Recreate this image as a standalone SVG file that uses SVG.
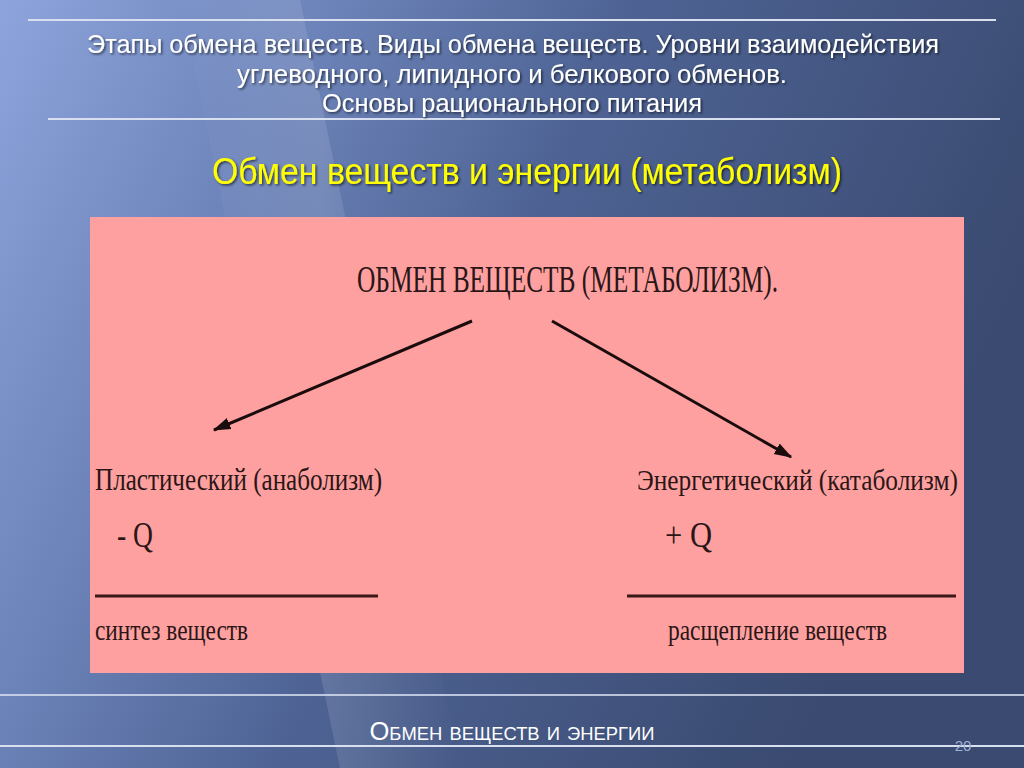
<svg xmlns="http://www.w3.org/2000/svg" width="1024" height="768" viewBox="0 0 1024 768">
<defs>
<linearGradient id="bg" x1="0" y1="0" x2="1" y2="0.35">
<stop offset="0" stop-color="#8da4dc"/>
<stop offset="0.3" stop-color="#6b82b8"/>
<stop offset="0.55" stop-color="#4e6394"/>
<stop offset="1" stop-color="#3a4a70"/>
</linearGradient>
<linearGradient id="streak" x1="0" y1="0" x2="1" y2="0">
<stop offset="0" stop-color="#ffffff" stop-opacity="0"/>
<stop offset="0.5" stop-color="#ffffff" stop-opacity="0.12"/>
<stop offset="1" stop-color="#ffffff" stop-opacity="0"/>
</linearGradient>
<marker id="ah" viewBox="0 0 12 10" refX="11" refY="5" markerWidth="6" markerHeight="5" orient="auto" markerUnits="strokeWidth">
<path d="M0,1 L12,5 L0,9 Z" fill="#1a0c0c"/>
</marker>
<filter id="sh" x="-5%" y="-20%" width="110%" height="140%">
<feDropShadow dx="1.5" dy="1.5" stdDeviation="0.8" flood-color="#000" flood-opacity="0.6"/>
</filter>
</defs>
<style>
.hdr{font-family:"Liberation Sans","DejaVu Sans",sans-serif;font-size:25px;fill:#ffffff;text-anchor:middle}
.ttl{font-family:"Liberation Sans","DejaVu Sans",sans-serif;font-size:37px;fill:#ffff00;text-anchor:middle}
.dg{font-family:"Liberation Serif","DejaVu Serif",serif;fill:#2a1616}
.rule{stroke:#d8e0f0;stroke-width:2}
.conn{stroke:#1a0c0c;stroke-width:3;fill:none}
.bar{stroke:#3a1818;stroke-width:3}
</style>
<rect x="0" y="0" width="1024" height="768" fill="url(#bg)"/>
<polygon points="180,0 300,0 460,768 340,768" fill="url(#streak)"/>
<line class="rule" x1="28" y1="20" x2="996" y2="20"/>
<line class="rule" x1="48" y1="119" x2="1000" y2="119"/>
<g id="header" filter="url(#sh)">
<text class="hdr" x="513" y="53" textLength="852" lengthAdjust="spacingAndGlyphs">Этапы обмена веществ. Виды обмена веществ. Уровни взаимодействия</text>
<text class="hdr" x="512" y="83" textLength="550" lengthAdjust="spacingAndGlyphs">углеводного, липидного и белкового обменов.</text>
<text class="hdr" x="512" y="112" textLength="380" lengthAdjust="spacingAndGlyphs">Основы рационального питания</text>
</g>
<g id="title" filter="url(#sh)">
<text class="ttl" x="527" y="184" textLength="630" lengthAdjust="spacingAndGlyphs">Обмен веществ и энергии (метаболизм)</text>
</g>
<rect x="90" y="217" width="874" height="456" fill="#ffa0a0"/>
<g id="root">
<text class="dg" x="357" y="292" font-size="38" textLength="421" lengthAdjust="spacingAndGlyphs">ОБМЕН ВЕЩЕСТВ (МЕТАБОЛИЗМ).</text>
</g>
<g id="connectors">
<line class="conn" x1="472" y1="321" x2="214" y2="430" marker-end="url(#ah)"/>
<line class="conn" x1="552" y1="321" x2="791" y2="457" marker-end="url(#ah)"/>
</g>
<g id="anabolism">
<text class="dg" x="95" y="490" font-size="32" textLength="287" lengthAdjust="spacingAndGlyphs">Пластический (анаболизм)</text>
<text class="dg" x="117" y="547" font-size="36" textLength="36" lengthAdjust="spacingAndGlyphs">- Q</text>
<line class="bar" x1="95" y1="596" x2="378" y2="596"/>
<text class="dg" x="95" y="640" font-size="30" textLength="153" lengthAdjust="spacingAndGlyphs">синтез веществ</text>
</g>
<g id="catabolism">
<text class="dg" x="637" y="490" font-size="30" textLength="321" lengthAdjust="spacingAndGlyphs">Энергетический (катаболизм)</text>
<text class="dg" x="665" y="547" font-size="36" textLength="47" lengthAdjust="spacingAndGlyphs">+ Q</text>
<line class="bar" x1="627" y1="596" x2="956" y2="596"/>
<text class="dg" x="668" y="640" font-size="30" textLength="219" lengthAdjust="spacingAndGlyphs">расщепление веществ</text>
</g>
<line class="rule" x1="0" y1="695" x2="1024" y2="695" stroke-opacity="0.8"/>
<line class="rule" x1="0" y1="746" x2="1024" y2="746"/>
<g id="footer">
<text x="512" y="740" font-family="Liberation Sans, DejaVu Sans, sans-serif" font-size="25" font-variant="small-caps" fill="#ffffff" text-anchor="middle" textLength="285" lengthAdjust="spacingAndGlyphs">Обмен веществ и энергии</text>
<text x="963" y="751" font-family="Liberation Sans, DejaVu Sans, sans-serif" font-size="15" fill="#a0b0d4" text-anchor="middle">20</text>
</g>
</svg>
